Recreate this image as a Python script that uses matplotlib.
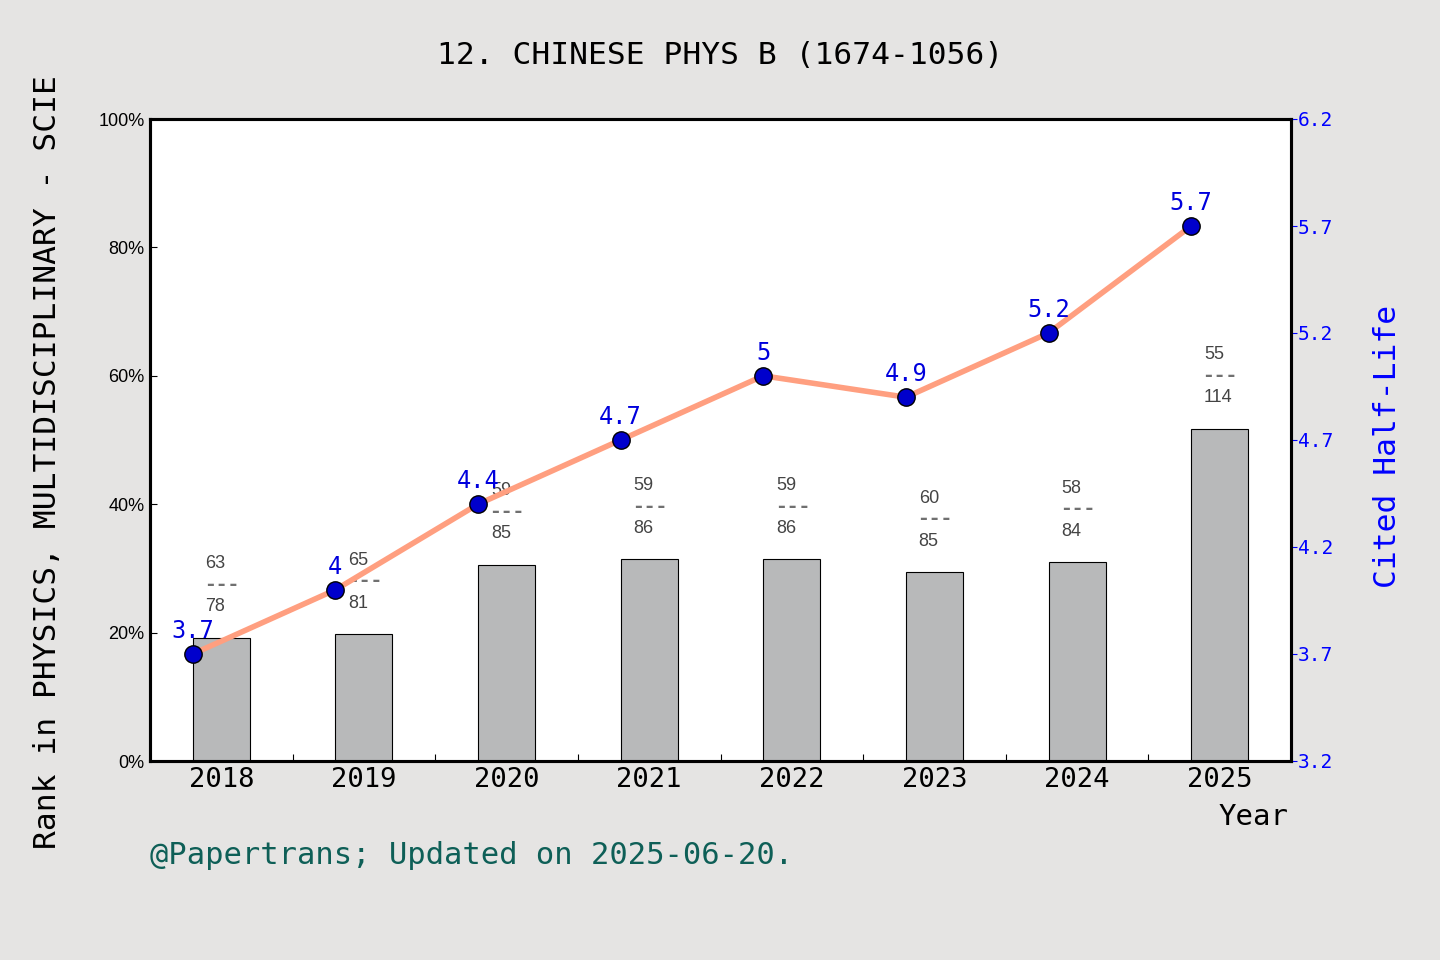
import matplotlib
matplotlib.use("Agg")
import matplotlib.pyplot as plt
import numpy as np

# data
years = ['2018', '2019', '2020', '2021', '2022', '2023', '2024', '2025']
rank = [63, 65, 59, 59, 59, 60, 58, 55]
total = [78, 81, 85, 86, 86, 85, 84, 114]
half_life = [3.7, 4, 4.4, 4.7, 5, 4.9, 5.2, 5.7]
half_life_lbl = ['3.7', '4', '4.4', '4.7', '5', '4.9', '5.2', '5.7']
pct_ticks = [0, 20, 40, 60, 80, 100]
hl_ticks = [3.2, 3.7, 4.2, 4.7, 5.2, 5.7, 6.2]

mono = 'DejaVu Sans Mono'
bg = '#e5e4e3'

# bar = share of journals ranked below
pct = [(1 - r / t) * 100 for r, t in zip(rank, total)]
x = np.arange(len(years))

fig = plt.figure(figsize=(14.4, 9.6), dpi=100, facecolor=bg)
ax = fig.add_axes([150/1440, 1-761/960, 1141/1440, 642/960])
ax.set_facecolor('white')

ax.bar(x, pct, width=0.4, color='#b8b9ba', edgecolor='black', linewidth=0.8, zorder=2)
for i in range(len(years)):
    pos = (x[i] - 0.11, pct[i] + 8.3)
    ax.annotate(str(rank[i]), pos, xytext=(0, 15), textcoords='offset points',
                ha='left', va='center', fontsize=13, color='#444444', family='Liberation Sans')
    ax.annotate('---', pos, xytext=(-1, 0), textcoords='offset points',
                ha='left', va='center', fontsize=14, color='#707070', family=mono,
                fontweight='bold')
    ax.annotate(str(total[i]), pos, xytext=(0, -16), textcoords='offset points',
                ha='left', va='center', fontsize=13, color='#444444', family='Liberation Sans')

ax.set_xlim(-0.5, len(years) - 0.5)
ax.set_ylim(0, 100)
ax.set_yticks(pct_ticks)
ax.set_yticklabels(['%d%%' % v for v in pct_ticks], fontsize=13, family='Liberation Sans')
ax.set_xticks(x)
ax.set_xticklabels(years, fontsize=19.5, family=mono)
ax.set_xticks(x[:-1] + 0.5, minor=True)
ax.tick_params(axis='x', which='major', length=0, pad=4)
ax.tick_params(axis='x', which='minor', direction='in', length=5, width=0.8)
ax.tick_params(axis='y', direction='in', length=5, width=0.8, pad=4)
for s in ax.spines.values():
    s.set_linewidth(2.2)

ax.set_ylabel('Rank in PHYSICS, MULTIDISCIPLINARY - SCIE', fontsize=22.5, family=mono)
ax.yaxis.set_label_coords(-0.077, 0.466)

ax2 = ax.twinx()
ax2.plot(x - 0.2, half_life, color='#ff9f80', linewidth=4, zorder=3)
ax2.plot(x - 0.2, half_life, 'o', color='#0000cc', markeredgecolor='black',
         markersize=12.5, markeredgewidth=1, zorder=4)
for i in range(len(years)):
    ax2.annotate(half_life_lbl[i], (x[i] - 0.2, half_life[i]), xytext=(0, 8),
                 textcoords='offset points', ha='center', va='bottom',
                 fontsize=17, color='#0000dd', family=mono)
ax2.set_ylim(3.2, 6.2)
ax2.set_yticks(hl_ticks)
ax2.set_yticklabels(['%.1f' % v for v in hl_ticks], fontsize=14, family=mono, color='blue')
ax2.tick_params(axis='y', direction='out', length=4, width=0.8, colors='blue', pad=1)
ax2.set_ylabel('Cited Half-Life', fontsize=22.5, family=mono, color='blue')
ax2.yaxis.set_label_coords(1.072, 0.49)
for s in ax2.spines.values():
    s.set_linewidth(2.2)

fig.text(0.5, 1 - 56/960, '12. CHINESE PHYS B (1674-1056)', ha='center', va='center',
         fontsize=22.5, family=mono)
fig.text(1289/1440, 1 - 817/960, 'Year', ha='right', va='center', fontsize=21, family=mono)
fig.text(150/1440, 1 - 855/960, '@Papertrans; Updated on 2025-06-20.', ha='left', va='center',
         fontsize=22, family=mono, color='#0e5f57')

fig.savefig('out.png', dpi=100, facecolor=bg)
